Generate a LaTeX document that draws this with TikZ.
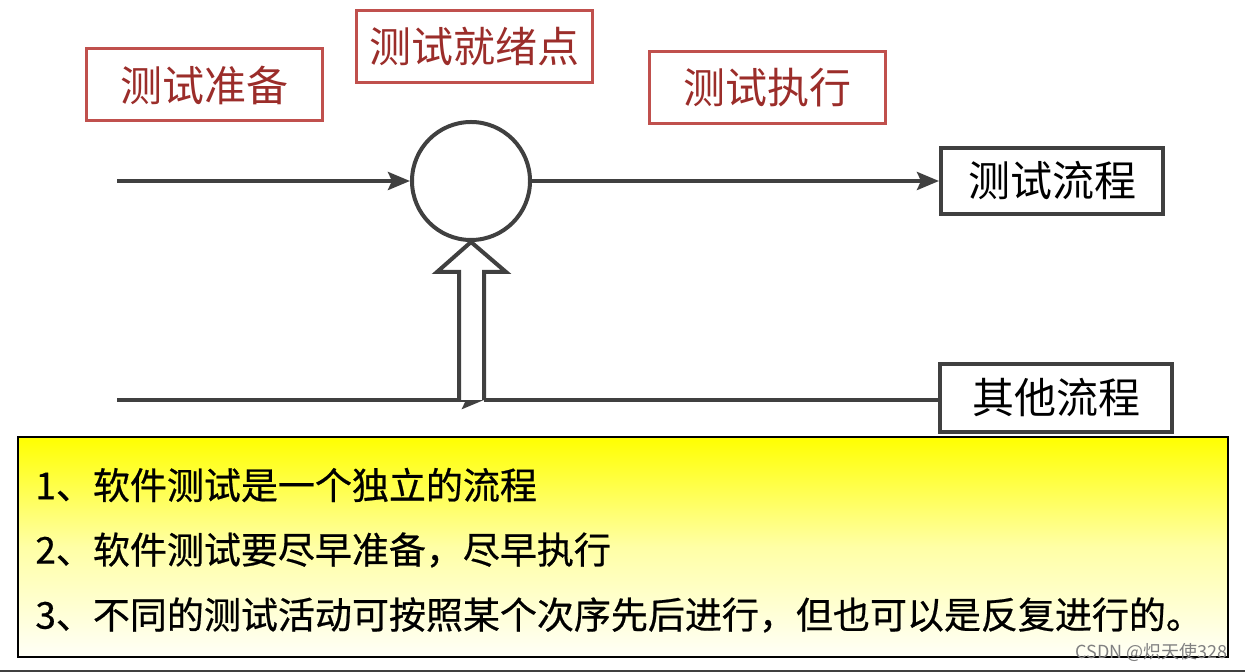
\documentclass[tikz,border=0pt]{standalone}
\usepackage{fontspec}
\setmainfont{Noto Sans CJK SC}
\newfontfamily\notefont[FakeBold=0.6]{Noto Sans CJK SC}
\usetikzlibrary{arrows.meta}

\definecolor{boxred}{HTML}{C0504D}
\definecolor{textred}{HTML}{9B2D2A}
\definecolor{linegray}{HTML}{404040}

\begin{document}
\begin{tikzpicture}[x=0.5pt, y=-0.5pt,
    stage/.style={draw=boxred, line width=1.5pt, text=textred, font=\fontsize{21pt}{24pt}\selectfont,
        minimum width=118pt, minimum height=36pt, inner sep=0pt},
    flow/.style={draw=linegray, line width=2pt, font=\fontsize{21pt}{24pt}\selectfont,
        minimum height=33pt, inner sep=0pt},
    conn/.style={draw=linegray, line width=2pt},
    tip/.style={-{Stealth[length=11pt, width=9pt, inset=2pt]}},
    note/.style={anchor=west, inner sep=0pt, font=\notefont\fontsize{18.5pt}{22pt}\selectfont}]
  \useasboundingbox (0,0) rectangle (1245,672);

  % stage labels
  \node[stage] (prep) at (204,85) {测试准备};
  \node[stage] (ready) at (474,47) {测试就绪点};
  \node[stage] (exec) at (767,88) {测试执行};

  % ready point and flows
  \node[circle, draw=linegray, line width=2pt, minimum size=59pt, inner sep=0pt] (point) at (471,181) {};
  \node[flow, minimum width=111pt] (test) at (1052,181) {测试流程};
  \node[flow, minimum width=116pt, minimum height=34pt] (other) at (1056,398) {其他流程};

  \coordinate (tstart) at (117,181);
  \coordinate (ostart) at (117,400);
  \coordinate (merge) at (484,400);

  \draw[conn, tip] (tstart) -- (point.west);
  \draw[conn, tip] (point.east) -- (test.west);
  \draw[conn, tip] (ostart) -- (merge);
  \draw[conn] (merge) -- (other.west |- merge);

  % hollow arrow from other flow up to the ready point
  \draw[conn, fill=white, line join=miter]
    (459,400) -- (459,272) -- (437,272) -- (point.south) -- (506,272) -- (484,272) -- (484,400);

  % notes
  \node[draw=black, line width=0.8pt, top color=yellow, bottom color=yellow!3, middle color=yellow!35,
        minimum width=605pt, minimum height=110pt, inner sep=0pt] (notes) at (623,547) {};
  \node[note] (n1) at (35,485) {1、软件测试是一个独立的流程};
  \node[note] (n2) at (35,550) {2、软件测试要尽早准备，尽早执行};
  \node[note] (n3) at (35,615) {3、不同的测试活动可按照某个次序先后进行，但也可以是反复进行的。};

  \node[anchor=east, inner sep=0pt, text=gray, font=\fontsize{9pt}{10pt}\selectfont] (csdn) at (1228,652) {CSDN @炽天使328};
  \draw[line width=1.5pt, draw=linegray] (0,671) -- (1245,671);
\end{tikzpicture}
\end{document}
